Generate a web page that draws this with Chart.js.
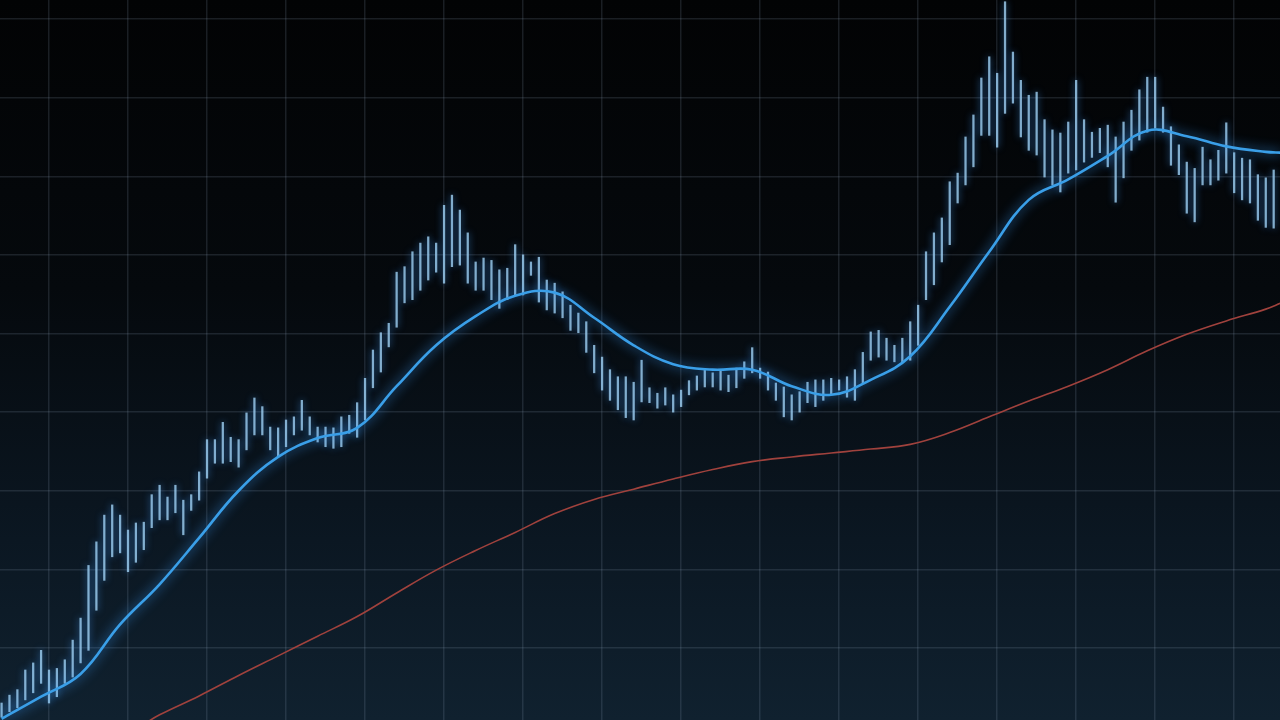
<!DOCTYPE html>
<html>
<head>
<meta charset="utf-8">
<title>Price chart</title>
<script src="https://cdn.jsdelivr.net/npm/chart.js@4.4.1/dist/chart.umd.min.js"></script>
<style>
  html, body { margin: 0; padding: 0; background: #05080b; }
  .wrap {
    position: relative; width: 1280px; height: 720px;
    background: linear-gradient(180deg, #020304 0%, #05090d 40%, #0b1722 75%, #10212f 100%);
  }
</style>
</head>
<body>
<div class="wrap"><canvas id="priceChart"></canvas></div>
<script>
// one high/low pair per bar, bar index = position in the array
const highs = [
  13.0, 14.0, 14.7, 17.2, 18.1, 19.7, 17.2, 17.4, 18.5, 21.0,
  23.8, 30.5, 33.5, 36.9, 38.2, 36.9, 35.0, 35.9, 36.0, 39.5,
  40.7, 39.2, 40.7, 38.8, 39.5, 42.4, 46.5, 46.5, 48.7, 46.8,
  46.5, 49.9, 51.8, 50.7, 48.1, 48.0, 49.0, 49.4, 51.5, 49.4,
  48.1, 48.1, 48.0, 49.4, 49.6, 51.2, 54.3, 57.9, 60.1, 61.3,
  67.8, 68.5, 70.4, 71.5, 72.3, 71.5, 76.3, 77.6, 75.7, 72.8,
  69.1, 69.6, 69.3, 68.1, 68.3, 71.3, 70.0, 69.1, 69.7, 66.8,
  66.4, 65.3, 63.6, 62.6, 61.5, 58.5, 57.0, 55.4, 54.5, 54.5,
  53.8, 56.6, 53.1, 52.4, 53.1, 52.2, 52.8, 54.0, 54.6, 55.4,
  55.0, 55.4, 54.7, 55.6, 56.4, 58.2, 55.6, 55.1, 53.7, 53.2,
  52.2, 52.6, 53.8, 54.1, 54.1, 54.3, 54.1, 54.5, 55.4, 57.6,
  60.2, 60.4, 59.4, 58.5, 59.4, 61.5, 63.6, 70.4, 72.8, 74.7,
  79.3, 80.4, 85.0, 87.8, 92.5, 95.2, 93.1, 102.2, 95.8, 92.2,
  90.3, 90.7, 87.2, 85.9, 85.5, 86.9, 92.2, 87.2, 85.6, 86.1,
  86.5, 85.0, 86.9, 88.4, 91.0, 92.6, 92.6, 88.8, 86.3, 84.0,
  81.8, 81.0, 83.7, 82.1, 83.3, 86.8, 83.0, 82.3, 82.1, 80.2,
  79.8, 80.8
];
const lows = [
  11.2, 11.9, 12.4, 13.4, 14.3, 15.5, 13.0, 13.8, 15.5, 16.3,
  18.1, 19.7, 24.8, 28.6, 31.6, 32.1, 29.7, 30.9, 32.5, 35.3,
  36.3, 36.3, 37.2, 34.4, 37.5, 38.8, 41.6, 43.5, 43.5, 43.7,
  43.0, 45.2, 47.1, 47.1, 45.2, 44.3, 45.6, 47.1, 47.7, 47.1,
  46.2, 45.6, 45.4, 45.6, 47.3, 46.8, 49.0, 53.1, 55.1, 58.3,
  60.8, 63.9, 64.3, 65.5, 66.8, 67.8, 66.4, 68.5, 68.7, 66.4,
  65.5, 65.5, 64.3, 63.2, 64.3, 64.9, 64.9, 67.4, 64.0, 63.0,
  62.6, 62.0, 60.4, 60.1, 57.6, 55.0, 52.8, 51.5, 50.3, 49.3,
  49.0, 51.3, 51.2, 50.5, 50.9, 50.0, 50.7, 52.2, 52.8, 53.2,
  53.2, 52.8, 52.6, 53.1, 54.3, 55.0, 54.3, 52.8, 51.5, 49.4,
  49.0, 50.0, 51.2, 50.7, 51.5, 52.2, 52.8, 51.9, 51.5, 53.7,
  56.6, 57.0, 56.6, 56.4, 56.4, 56.6, 58.5, 64.3, 66.2, 69.1,
  71.3, 76.6, 78.9, 81.2, 85.2, 85.2, 83.7, 88.0, 89.3, 85.0,
  83.3, 82.7, 79.9, 78.9, 78.0, 80.4, 80.8, 81.8, 82.4, 83.0,
  81.2, 76.7, 79.8, 83.3, 84.6, 85.6, 86.1, 85.6, 81.4, 80.2,
  75.3, 74.2, 78.9, 78.9, 79.5, 80.4, 77.9, 77.0, 76.6, 74.4,
  73.5, 73.4
];

// moving averages, read every 5 bars
const fastIdx = [0, 5, 10, 15, 20, 25, 30, 35, 40, 45, 50, 55, 60, 65, 70, 75, 80,
  85, 90, 95, 100, 105, 110, 115, 120, 125, 130, 135, 140, 145, 150, 155, 160, 162];
const fastMa = [11.0, 13.8, 16.7, 23.0, 28.1, 34.0, 40.0, 44.3, 46.7, 48.0, 53.3, 58.5, 62.2,
  64.8, 65.2, 62.0, 58.5, 56.1, 55.4, 55.4, 53.3, 52.2, 54.1, 57.1, 63.4, 70.4, 77.0,
  79.6, 82.6, 85.8, 85.1, 83.8, 83.1, 83.0];
const slowIdx = [18, 20, 25, 30, 35, 40, 45, 50, 55, 60, 65, 70, 75, 80, 85, 90, 95,
  100, 105, 110, 115, 120, 125, 130, 135, 140, 145, 150, 155, 160, 162];
const slowMa = [10.3, 11.5, 13.9, 16.5, 19.0, 21.5, 24.0, 27.0, 29.9, 32.4, 34.7, 37.1,
  38.9, 40.2, 41.5, 42.7, 43.7, 44.3, 44.8, 45.3, 45.9, 47.4, 49.4, 51.4, 53.3, 55.4,
  57.8, 59.9, 61.6, 63.1, 63.9];

// grid positions
const xGrid = [6, 16, 26, 36, 46, 56, 66, 76, 86, 96, 106, 116, 126, 136, 146, 156];
const yGrid = [20, 30, 40, 50, 60, 70, 80, 90, 100];

const glowPlugin = {
  id: 'glow',
  beforeDatasetDraw(chart, args) {
    const ds = args.meta._dataset;
    if (!ds.glow) return;
    chart.ctx.save();
    chart.ctx.shadowColor = ds.glow;
    chart.ctx.shadowBlur = ds.glowBlur;
  },
  afterDatasetDraw(chart, args) {
    if (args.meta._dataset.glow) chart.ctx.restore();
  }
};

const ctx = document.getElementById('priceChart').getContext('2d');
const priceChart = new Chart(ctx, {
  type: 'bar',
  data: {
    datasets: [
      {
        type: 'line',
        label: 'fast',
        data: fastIdx.map((x, i) => ({ x: x, y: fastMa[i] })),
        borderColor: '#3a9fe8',
        borderWidth: 2.6,
        pointRadius: 0,
        tension: 0.4,
        glow: 'rgba(60, 160, 255, 0.9)',
        glowBlur: 12,
        order: 0
      },
      {
        type: 'line',
        label: 'slow',
        data: slowIdx.map((x, i) => ({ x: x, y: slowMa[i] })),
        borderColor: '#a0423d',
        borderWidth: 1.6,
        pointRadius: 0,
        tension: 0.4,
        order: 1
      },
      {
        label: 'bars',
        data: highs.map((h, i) => ({ x: i, y: [lows[i], h] })),
        backgroundColor: 'rgba(160, 210, 245, 0.8)',
        borderWidth: 0,
        barThickness: 1.6,
        glow: 'rgba(70, 160, 255, 0.8)',
        glowBlur: 7,
        order: 2
      }
    ]
  },
  options: {
    responsive: true,
    maintainAspectRatio: false,
    animation: false,
    layout: { padding: 0 },
    plugins: { legend: { display: false }, tooltip: { enabled: false } },
    scales: {
      x: {
        type: 'linear',
        min: -0.2,
        max: 161.8,
        offset: false,
        afterBuildTicks: axis => { axis.ticks = xGrid.map(v => ({ value: v })); },
        grid: { color: 'rgba(150, 168, 188, 0.17)', lineWidth: 1.5, drawTicks: false, offset: false },
        border: { display: false },
        ticks: { display: false }
      },
      y: {
        type: 'linear',
        min: 10.84,
        max: 102.42,
        afterBuildTicks: axis => { axis.ticks = yGrid.map(v => ({ value: v })); },
        grid: { color: 'rgba(150, 168, 188, 0.17)', lineWidth: 1.5, drawTicks: false },
        border: { display: false },
        ticks: { display: false }
      }
    }
  },
  plugins: [glowPlugin]
});
</script>
</body>
</html>
